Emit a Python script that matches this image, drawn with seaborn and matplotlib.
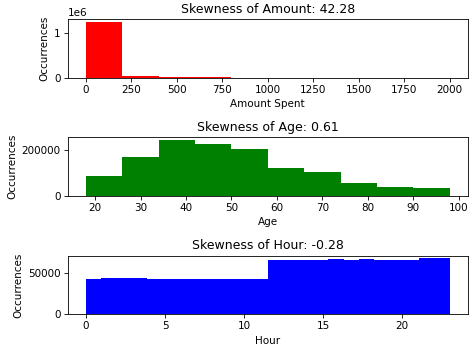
import numpy as np
import matplotlib
matplotlib.use("Agg")
import matplotlib.pyplot as plt
import seaborn as sns

# histogram counts
amount_edges = [0, 200, 400, 600, 800, 1000, 1200, 1400, 1600, 1800, 2000]
amount_counts = [1240000, 50000, 14000, 10000, 300, 100, 50, 20, 10, 5]

age_edges = [18, 26, 34, 42, 50, 58, 66, 74, 82, 90, 98]
age_counts = [87000, 171000, 244000, 229000, 205000, 123000, 106500, 58000, 41000, 33000]

hours = list(range(24))
hour_counts = [42400, 43600, 43600, 43600, 42300, 42300, 42300, 42300, 42300, 42300, 42300, 42400,
               65700, 65700, 65700, 65700, 67000, 65800, 66800, 65400, 65400, 65400, 67300, 67300]

skew_amount = 42.28
skew_age = 0.61
skew_hour = -0.28

# the figure was drawn bigger and scaled down, so use a lower dpi
fig, axes = plt.subplots(3, 1, figsize=(474 / 75, 351 / 75), dpi=75)

sns.histplot(x=amount_edges[:-1], weights=amount_counts, bins=amount_edges,
             color="red", alpha=1, linewidth=0, ax=axes[0])
axes[0].set_title("Skewness of Amount: {:.2f}".format(skew_amount))
axes[0].set_xlabel("Amount Spent")
axes[0].set_ylabel("Occurrences")

sns.histplot(x=age_edges[:-1], weights=age_counts, bins=age_edges,
             color="green", alpha=1, linewidth=0, ax=axes[1])
axes[1].set_title("Skewness of Age: {:.2f}".format(skew_age))
axes[1].set_xlabel("Age")
axes[1].set_ylabel("Occurrences")

sns.histplot(x=hours, weights=hour_counts, bins=24, binrange=(0, 23),
             color="blue", alpha=1, linewidth=0, ax=axes[2])
axes[2].set_title("Skewness of Hour: {:.2f}".format(skew_hour))
axes[2].set_xlabel("Hour")
axes[2].set_ylabel("Occurrences")

plt.subplots_adjust(left=0.143, right=0.987, top=0.945, bottom=0.105, hspace=1.02)
plt.savefig("out.png", dpi=75)
